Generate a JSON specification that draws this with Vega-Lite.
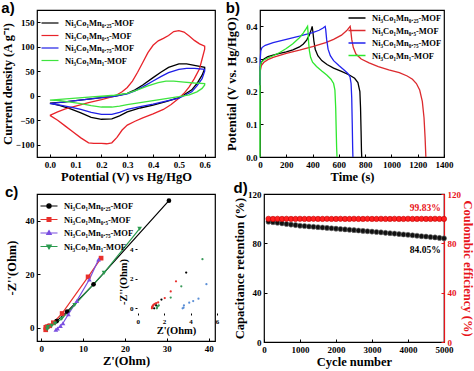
{
  "$schema": "https://vega.github.io/schema/vega-lite/v6.json",
  "padding": {"left": 0, "top": 0, "right": 0, "bottom": 0},
  "background": "white",
  "datasets": {
    "cv": [
      {"s":"Ni₃Co₁Mn₀.₂₅-MOF","k":0,"v":0,"i":-15},{"s":"Ni₃Co₁Mn₀.₂₅-MOF","k":1,"v":0.05,"i":-13},{"s":"Ni₃Co₁Mn₀.₂₅-MOF","k":2,"v":0.1,"i":-10},{"s":"Ni₃Co₁Mn₀.₂₅-MOF","k":3,"v":0.15,"i":-7},{"s":"Ni₃Co₁Mn₀.₂₅-MOF","k":4,"v":0.2,"i":-4},{"s":"Ni₃Co₁Mn₀.₂₅-MOF","k":5,"v":0.25,"i":-1},{"s":"Ni₃Co₁Mn₀.₂₅-MOF","k":6,"v":0.3,"i":5},{"s":"Ni₃Co₁Mn₀.₂₅-MOF","k":7,"v":0.33,"i":12},{"s":"Ni₃Co₁Mn₀.₂₅-MOF","k":8,"v":0.36,"i":22},{"s":"Ni₃Co₁Mn₀.₂₅-MOF","k":9,"v":0.4,"i":37},{"s":"Ni₃Co₁Mn₀.₂₅-MOF","k":10,"v":0.43,"i":48},{"s":"Ni₃Co₁Mn₀.₂₅-MOF","k":11,"v":0.46,"i":58},{"s":"Ni₃Co₁Mn₀.₂₅-MOF","k":12,"v":0.5,"i":65},{"s":"Ni₃Co₁Mn₀.₂₅-MOF","k":13,"v":0.53,"i":65},{"s":"Ni₃Co₁Mn₀.₂₅-MOF","k":14,"v":0.56,"i":62},{"s":"Ni₃Co₁Mn₀.₂₅-MOF","k":15,"v":0.6,"i":58},{"s":"Ni₃Co₁Mn₀.₂₅-MOF","k":16,"v":0.6,"i":55},{"s":"Ni₃Co₁Mn₀.₂₅-MOF","k":17,"v":0.59,"i":42},{"s":"Ni₃Co₁Mn₀.₂₅-MOF","k":18,"v":0.57,"i":25},{"s":"Ni₃Co₁Mn₀.₂₅-MOF","k":19,"v":0.55,"i":12},{"s":"Ni₃Co₁Mn₀.₂₅-MOF","k":20,"v":0.52,"i":2},{"s":"Ni₃Co₁Mn₀.₂₅-MOF","k":21,"v":0.5,"i":-4},{"s":"Ni₃Co₁Mn₀.₂₅-MOF","k":22,"v":0.45,"i":-12},{"s":"Ni₃Co₁Mn₀.₂₅-MOF","k":23,"v":0.4,"i":-19},{"s":"Ni₃Co₁Mn₀.₂₅-MOF","k":24,"v":0.35,"i":-25},{"s":"Ni₃Co₁Mn₀.₂₅-MOF","k":25,"v":0.3,"i":-33},{"s":"Ni₃Co₁Mn₀.₂₅-MOF","k":26,"v":0.27,"i":-41},{"s":"Ni₃Co₁Mn₀.₂₅-MOF","k":27,"v":0.24,"i":-47},{"s":"Ni₃Co₁Mn₀.₂₅-MOF","k":28,"v":0.2,"i":-48},{"s":"Ni₃Co₁Mn₀.₂₅-MOF","k":29,"v":0.16,"i":-44},{"s":"Ni₃Co₁Mn₀.₂₅-MOF","k":30,"v":0.12,"i":-35},{"s":"Ni₃Co₁Mn₀.₂₅-MOF","k":31,"v":0.08,"i":-27},{"s":"Ni₃Co₁Mn₀.₂₅-MOF","k":32,"v":0.04,"i":-20},{"s":"Ni₃Co₁Mn₀.₂₅-MOF","k":33,"v":0,"i":-15},
      {"s":"Ni₃Co₁Mn₀.₅-MOF","k":0,"v":0,"i":-40},{"s":"Ni₃Co₁Mn₀.₅-MOF","k":1,"v":0.03,"i":-33},{"s":"Ni₃Co₁Mn₀.₅-MOF","k":2,"v":0.06,"i":-27},{"s":"Ni₃Co₁Mn₀.₅-MOF","k":3,"v":0.1,"i":-21},{"s":"Ni₃Co₁Mn₀.₅-MOF","k":4,"v":0.15,"i":-14},{"s":"Ni₃Co₁Mn₀.₅-MOF","k":5,"v":0.2,"i":-8},{"s":"Ni₃Co₁Mn₀.₅-MOF","k":6,"v":0.25,"i":-1},{"s":"Ni₃Co₁Mn₀.₅-MOF","k":7,"v":0.28,"i":8},{"s":"Ni₃Co₁Mn₀.₅-MOF","k":8,"v":0.3,"i":17},{"s":"Ni₃Co₁Mn₀.₅-MOF","k":9,"v":0.32,"i":30},{"s":"Ni₃Co₁Mn₀.₅-MOF","k":10,"v":0.34,"i":48},{"s":"Ni₃Co₁Mn₀.₅-MOF","k":11,"v":0.36,"i":68},{"s":"Ni₃Co₁Mn₀.₅-MOF","k":12,"v":0.38,"i":88},{"s":"Ni₃Co₁Mn₀.₅-MOF","k":13,"v":0.4,"i":103},{"s":"Ni₃Co₁Mn₀.₅-MOF","k":14,"v":0.42,"i":112},{"s":"Ni₃Co₁Mn₀.₅-MOF","k":15,"v":0.44,"i":117},{"s":"Ni₃Co₁Mn₀.₅-MOF","k":16,"v":0.46,"i":123},{"s":"Ni₃Co₁Mn₀.₅-MOF","k":17,"v":0.48,"i":131},{"s":"Ni₃Co₁Mn₀.₅-MOF","k":18,"v":0.5,"i":133},{"s":"Ni₃Co₁Mn₀.₅-MOF","k":19,"v":0.52,"i":130},{"s":"Ni₃Co₁Mn₀.₅-MOF","k":20,"v":0.54,"i":122},{"s":"Ni₃Co₁Mn₀.₅-MOF","k":21,"v":0.56,"i":113},{"s":"Ni₃Co₁Mn₀.₅-MOF","k":22,"v":0.58,"i":106},{"s":"Ni₃Co₁Mn₀.₅-MOF","k":23,"v":0.6,"i":101},{"s":"Ni₃Co₁Mn₀.₅-MOF","k":24,"v":0.6,"i":95},{"s":"Ni₃Co₁Mn₀.₅-MOF","k":25,"v":0.59,"i":75},{"s":"Ni₃Co₁Mn₀.₅-MOF","k":26,"v":0.58,"i":55},{"s":"Ni₃Co₁Mn₀.₅-MOF","k":27,"v":0.56,"i":35},{"s":"Ni₃Co₁Mn₀.₅-MOF","k":28,"v":0.54,"i":18},{"s":"Ni₃Co₁Mn₀.₅-MOF","k":29,"v":0.52,"i":5},{"s":"Ni₃Co₁Mn₀.₅-MOF","k":30,"v":0.5,"i":-5},{"s":"Ni₃Co₁Mn₀.₅-MOF","k":31,"v":0.47,"i":-18},{"s":"Ni₃Co₁Mn₀.₅-MOF","k":32,"v":0.44,"i":-28},{"s":"Ni₃Co₁Mn₀.₅-MOF","k":33,"v":0.4,"i":-37},{"s":"Ni₃Co₁Mn₀.₅-MOF","k":34,"v":0.36,"i":-45},{"s":"Ni₃Co₁Mn₀.₅-MOF","k":35,"v":0.33,"i":-52},{"s":"Ni₃Co₁Mn₀.₅-MOF","k":36,"v":0.3,"i":-60},{"s":"Ni₃Co₁Mn₀.₅-MOF","k":37,"v":0.28,"i":-70},{"s":"Ni₃Co₁Mn₀.₅-MOF","k":38,"v":0.26,"i":-85},{"s":"Ni₃Co₁Mn₀.₅-MOF","k":39,"v":0.24,"i":-96},{"s":"Ni₃Co₁Mn₀.₅-MOF","k":40,"v":0.22,"i":-98},{"s":"Ni₃Co₁Mn₀.₅-MOF","k":41,"v":0.2,"i":-97},{"s":"Ni₃Co₁Mn₀.₅-MOF","k":42,"v":0.17,"i":-97},{"s":"Ni₃Co₁Mn₀.₅-MOF","k":43,"v":0.15,"i":-96},{"s":"Ni₃Co₁Mn₀.₅-MOF","k":44,"v":0.12,"i":-86},{"s":"Ni₃Co₁Mn₀.₅-MOF","k":45,"v":0.09,"i":-74},{"s":"Ni₃Co₁Mn₀.₅-MOF","k":46,"v":0.06,"i":-62},{"s":"Ni₃Co₁Mn₀.₅-MOF","k":47,"v":0.03,"i":-50},{"s":"Ni₃Co₁Mn₀.₅-MOF","k":48,"v":0,"i":-40},
      {"s":"Ni₃Co₁Mn₀.₇₅-MOF","k":0,"v":0,"i":-16},{"s":"Ni₃Co₁Mn₀.₇₅-MOF","k":1,"v":0.05,"i":-13},{"s":"Ni₃Co₁Mn₀.₇₅-MOF","k":2,"v":0.1,"i":-10},{"s":"Ni₃Co₁Mn₀.₇₅-MOF","k":3,"v":0.15,"i":-7},{"s":"Ni₃Co₁Mn₀.₇₅-MOF","k":4,"v":0.2,"i":-4},{"s":"Ni₃Co₁Mn₀.₇₅-MOF","k":5,"v":0.25,"i":-1},{"s":"Ni₃Co₁Mn₀.₇₅-MOF","k":6,"v":0.3,"i":4},{"s":"Ni₃Co₁Mn₀.₇₅-MOF","k":7,"v":0.33,"i":10},{"s":"Ni₃Co₁Mn₀.₇₅-MOF","k":8,"v":0.36,"i":18},{"s":"Ni₃Co₁Mn₀.₇₅-MOF","k":9,"v":0.4,"i":30},{"s":"Ni₃Co₁Mn₀.₇₅-MOF","k":10,"v":0.43,"i":39},{"s":"Ni₃Co₁Mn₀.₇₅-MOF","k":11,"v":0.46,"i":47},{"s":"Ni₃Co₁Mn₀.₇₅-MOF","k":12,"v":0.5,"i":54},{"s":"Ni₃Co₁Mn₀.₇₅-MOF","k":13,"v":0.53,"i":56},{"s":"Ni₃Co₁Mn₀.₇₅-MOF","k":14,"v":0.56,"i":56},{"s":"Ni₃Co₁Mn₀.₇₅-MOF","k":15,"v":0.6,"i":54},{"s":"Ni₃Co₁Mn₀.₇₅-MOF","k":16,"v":0.6,"i":50},{"s":"Ni₃Co₁Mn₀.₇₅-MOF","k":17,"v":0.59,"i":35},{"s":"Ni₃Co₁Mn₀.₇₅-MOF","k":18,"v":0.57,"i":20},{"s":"Ni₃Co₁Mn₀.₇₅-MOF","k":19,"v":0.55,"i":8},{"s":"Ni₃Co₁Mn₀.₇₅-MOF","k":20,"v":0.52,"i":0},{"s":"Ni₃Co₁Mn₀.₇₅-MOF","k":21,"v":0.5,"i":-5},{"s":"Ni₃Co₁Mn₀.₇₅-MOF","k":22,"v":0.45,"i":-11},{"s":"Ni₃Co₁Mn₀.₇₅-MOF","k":23,"v":0.4,"i":-17},{"s":"Ni₃Co₁Mn₀.₇₅-MOF","k":24,"v":0.35,"i":-22},{"s":"Ni₃Co₁Mn₀.₇₅-MOF","k":25,"v":0.3,"i":-28},{"s":"Ni₃Co₁Mn₀.₇₅-MOF","k":26,"v":0.27,"i":-34},{"s":"Ni₃Co₁Mn₀.₇₅-MOF","k":27,"v":0.24,"i":-38},{"s":"Ni₃Co₁Mn₀.₇₅-MOF","k":28,"v":0.2,"i":-38},{"s":"Ni₃Co₁Mn₀.₇₅-MOF","k":29,"v":0.16,"i":-34},{"s":"Ni₃Co₁Mn₀.₇₅-MOF","k":30,"v":0.12,"i":-28},{"s":"Ni₃Co₁Mn₀.₇₅-MOF","k":31,"v":0.08,"i":-23},{"s":"Ni₃Co₁Mn₀.₇₅-MOF","k":32,"v":0.04,"i":-19},{"s":"Ni₃Co₁Mn₀.₇₅-MOF","k":33,"v":0,"i":-16},
      {"s":"Ni₃Co₁Mn₁-MOF","k":0,"v":0,"i":-9},{"s":"Ni₃Co₁Mn₁-MOF","k":1,"v":0.05,"i":-7},{"s":"Ni₃Co₁Mn₁-MOF","k":2,"v":0.1,"i":-5},{"s":"Ni₃Co₁Mn₁-MOF","k":3,"v":0.15,"i":-3},{"s":"Ni₃Co₁Mn₁-MOF","k":4,"v":0.2,"i":-1},{"s":"Ni₃Co₁Mn₁-MOF","k":5,"v":0.25,"i":1},{"s":"Ni₃Co₁Mn₁-MOF","k":6,"v":0.3,"i":5},{"s":"Ni₃Co₁Mn₁-MOF","k":7,"v":0.34,"i":12},{"s":"Ni₃Co₁Mn₁-MOF","k":8,"v":0.38,"i":20},{"s":"Ni₃Co₁Mn₁-MOF","k":9,"v":0.42,"i":27},{"s":"Ni₃Co₁Mn₁-MOF","k":10,"v":0.45,"i":30},{"s":"Ni₃Co₁Mn₁-MOF","k":11,"v":0.48,"i":30},{"s":"Ni₃Co₁Mn₁-MOF","k":12,"v":0.52,"i":28},{"s":"Ni₃Co₁Mn₁-MOF","k":13,"v":0.56,"i":26},{"s":"Ni₃Co₁Mn₁-MOF","k":14,"v":0.6,"i":25},{"s":"Ni₃Co₁Mn₁-MOF","k":15,"v":0.6,"i":22},{"s":"Ni₃Co₁Mn₁-MOF","k":16,"v":0.59,"i":15},{"s":"Ni₃Co₁Mn₁-MOF","k":17,"v":0.57,"i":8},{"s":"Ni₃Co₁Mn₁-MOF","k":18,"v":0.54,"i":2},{"s":"Ni₃Co₁Mn₁-MOF","k":19,"v":0.5,"i":-2},{"s":"Ni₃Co₁Mn₁-MOF","k":20,"v":0.45,"i":-6},{"s":"Ni₃Co₁Mn₁-MOF","k":21,"v":0.4,"i":-10},{"s":"Ni₃Co₁Mn₁-MOF","k":22,"v":0.35,"i":-14},{"s":"Ni₃Co₁Mn₁-MOF","k":23,"v":0.3,"i":-18},{"s":"Ni₃Co₁Mn₁-MOF","k":24,"v":0.27,"i":-21},{"s":"Ni₃Co₁Mn₁-MOF","k":25,"v":0.24,"i":-23},{"s":"Ni₃Co₁Mn₁-MOF","k":26,"v":0.2,"i":-23},{"s":"Ni₃Co₁Mn₁-MOF","k":27,"v":0.16,"i":-20},{"s":"Ni₃Co₁Mn₁-MOF","k":28,"v":0.12,"i":-16},{"s":"Ni₃Co₁Mn₁-MOF","k":29,"v":0.08,"i":-13},{"s":"Ni₃Co₁Mn₁-MOF","k":30,"v":0.04,"i":-10},{"s":"Ni₃Co₁Mn₁-MOF","k":31,"v":0,"i":-9}
    ],
    "gcd": [
      {"s":"Ni₃Co₁Mn₀.₂₅-MOF","k":0,"t":0,"p":0.22},{"s":"Ni₃Co₁Mn₀.₂₅-MOF","k":1,"t":3,"p":0.275},{"s":"Ni₃Co₁Mn₀.₂₅-MOF","k":2,"t":10,"p":0.29},{"s":"Ni₃Co₁Mn₀.₂₅-MOF","k":3,"t":30,"p":0.3},{"s":"Ni₃Co₁Mn₀.₂₅-MOF","k":4,"t":60,"p":0.307},{"s":"Ni₃Co₁Mn₀.₂₅-MOF","k":5,"t":100,"p":0.312},{"s":"Ni₃Co₁Mn₀.₂₅-MOF","k":6,"t":150,"p":0.317},{"s":"Ni₃Co₁Mn₀.₂₅-MOF","k":7,"t":200,"p":0.322},{"s":"Ni₃Co₁Mn₀.₂₅-MOF","k":8,"t":250,"p":0.328},{"s":"Ni₃Co₁Mn₀.₂₅-MOF","k":9,"t":300,"p":0.337},{"s":"Ni₃Co₁Mn₀.₂₅-MOF","k":10,"t":330,"p":0.346},{"s":"Ni₃Co₁Mn₀.₂₅-MOF","k":11,"t":355,"p":0.358},{"s":"Ni₃Co₁Mn₀.₂₅-MOF","k":12,"t":375,"p":0.373},{"s":"Ni₃Co₁Mn₀.₂₅-MOF","k":13,"t":390,"p":0.39},{"s":"Ni₃Co₁Mn₀.₂₅-MOF","k":14,"t":397,"p":0.4},{"s":"Ni₃Co₁Mn₀.₂₅-MOF","k":15,"t":402,"p":0.385},{"s":"Ni₃Co₁Mn₀.₂₅-MOF","k":16,"t":410,"p":0.355},{"s":"Ni₃Co₁Mn₀.₂₅-MOF","k":17,"t":420,"p":0.33},{"s":"Ni₃Co₁Mn₀.₂₅-MOF","k":18,"t":440,"p":0.31},{"s":"Ni₃Co₁Mn₀.₂₅-MOF","k":19,"t":470,"p":0.295},{"s":"Ni₃Co₁Mn₀.₂₅-MOF","k":20,"t":510,"p":0.283},{"s":"Ni₃Co₁Mn₀.₂₅-MOF","k":21,"t":560,"p":0.272},{"s":"Ni₃Co₁Mn₀.₂₅-MOF","k":22,"t":620,"p":0.262},{"s":"Ni₃Co₁Mn₀.₂₅-MOF","k":23,"t":680,"p":0.251},{"s":"Ni₃Co₁Mn₀.₂₅-MOF","k":24,"t":720,"p":0.241},{"s":"Ni₃Co₁Mn₀.₂₅-MOF","k":25,"t":745,"p":0.228},{"s":"Ni₃Co₁Mn₀.₂₅-MOF","k":26,"t":760,"p":0.2},{"s":"Ni₃Co₁Mn₀.₂₅-MOF","k":27,"t":765,"p":0.15},{"s":"Ni₃Co₁Mn₀.₂₅-MOF","k":28,"t":769,"p":0.08},{"s":"Ni₃Co₁Mn₀.₂₅-MOF","k":29,"t":772,"p":0.02},{"s":"Ni₃Co₁Mn₀.₂₅-MOF","k":30,"t":774,"p":0},
      {"s":"Ni₃Co₁Mn₀.₅-MOF","k":0,"t":0,"p":0.22},{"s":"Ni₃Co₁Mn₀.₅-MOF","k":1,"t":3,"p":0.265},{"s":"Ni₃Co₁Mn₀.₅-MOF","k":2,"t":10,"p":0.28},{"s":"Ni₃Co₁Mn₀.₅-MOF","k":3,"t":30,"p":0.29},{"s":"Ni₃Co₁Mn₀.₅-MOF","k":4,"t":60,"p":0.298},{"s":"Ni₃Co₁Mn₀.₅-MOF","k":5,"t":100,"p":0.305},{"s":"Ni₃Co₁Mn₀.₅-MOF","k":6,"t":200,"p":0.317},{"s":"Ni₃Co₁Mn₀.₅-MOF","k":7,"t":300,"p":0.327},{"s":"Ni₃Co₁Mn₀.₅-MOF","k":8,"t":400,"p":0.338},{"s":"Ni₃Co₁Mn₀.₅-MOF","k":9,"t":500,"p":0.35},{"s":"Ni₃Co₁Mn₀.₅-MOF","k":10,"t":560,"p":0.36},{"s":"Ni₃Co₁Mn₀.₅-MOF","k":11,"t":620,"p":0.373},{"s":"Ni₃Co₁Mn₀.₅-MOF","k":12,"t":660,"p":0.387},{"s":"Ni₃Co₁Mn₀.₅-MOF","k":13,"t":686,"p":0.4},{"s":"Ni₃Co₁Mn₀.₅-MOF","k":14,"t":690,"p":0.39},{"s":"Ni₃Co₁Mn₀.₅-MOF","k":15,"t":698,"p":0.36},{"s":"Ni₃Co₁Mn₀.₅-MOF","k":16,"t":710,"p":0.335},{"s":"Ni₃Co₁Mn₀.₅-MOF","k":17,"t":730,"p":0.315},{"s":"Ni₃Co₁Mn₀.₅-MOF","k":18,"t":770,"p":0.3},{"s":"Ni₃Co₁Mn₀.₅-MOF","k":19,"t":830,"p":0.288},{"s":"Ni₃Co₁Mn₀.₅-MOF","k":20,"t":900,"p":0.277},{"s":"Ni₃Co₁Mn₀.₅-MOF","k":21,"t":980,"p":0.267},{"s":"Ni₃Co₁Mn₀.₅-MOF","k":22,"t":1060,"p":0.258},{"s":"Ni₃Co₁Mn₀.₅-MOF","k":23,"t":1120,"p":0.248},{"s":"Ni₃Co₁Mn₀.₅-MOF","k":24,"t":1160,"p":0.238},{"s":"Ni₃Co₁Mn₀.₅-MOF","k":25,"t":1190,"p":0.225},{"s":"Ni₃Co₁Mn₀.₅-MOF","k":26,"t":1215,"p":0.205},{"s":"Ni₃Co₁Mn₀.₅-MOF","k":27,"t":1235,"p":0.17},{"s":"Ni₃Co₁Mn₀.₅-MOF","k":28,"t":1248,"p":0.12},{"s":"Ni₃Co₁Mn₀.₅-MOF","k":29,"t":1256,"p":0.06},{"s":"Ni₃Co₁Mn₀.₅-MOF","k":30,"t":1262,"p":0},
      {"s":"Ni₃Co₁Mn₀.₇₅-MOF","k":0,"t":0,"p":0.22},{"s":"Ni₃Co₁Mn₀.₇₅-MOF","k":1,"t":2,"p":0.3},{"s":"Ni₃Co₁Mn₀.₇₅-MOF","k":2,"t":6,"p":0.325},{"s":"Ni₃Co₁Mn₀.₇₅-MOF","k":3,"t":15,"p":0.335},{"s":"Ni₃Co₁Mn₀.₇₅-MOF","k":4,"t":40,"p":0.342},{"s":"Ni₃Co₁Mn₀.₇₅-MOF","k":5,"t":100,"p":0.35},{"s":"Ni₃Co₁Mn₀.₇₅-MOF","k":6,"t":200,"p":0.36},{"s":"Ni₃Co₁Mn₀.₇₅-MOF","k":7,"t":300,"p":0.37},{"s":"Ni₃Co₁Mn₀.₇₅-MOF","k":8,"t":400,"p":0.381},{"s":"Ni₃Co₁Mn₀.₇₅-MOF","k":9,"t":450,"p":0.388},{"s":"Ni₃Co₁Mn₀.₇₅-MOF","k":10,"t":480,"p":0.395},{"s":"Ni₃Co₁Mn₀.₇₅-MOF","k":11,"t":496,"p":0.4},{"s":"Ni₃Co₁Mn₀.₇₅-MOF","k":12,"t":500,"p":0.39},{"s":"Ni₃Co₁Mn₀.₇₅-MOF","k":13,"t":507,"p":0.36},{"s":"Ni₃Co₁Mn₀.₇₅-MOF","k":14,"t":518,"p":0.33},{"s":"Ni₃Co₁Mn₀.₇₅-MOF","k":15,"t":535,"p":0.31},{"s":"Ni₃Co₁Mn₀.₇₅-MOF","k":16,"t":560,"p":0.295},{"s":"Ni₃Co₁Mn₀.₇₅-MOF","k":17,"t":600,"p":0.28},{"s":"Ni₃Co₁Mn₀.₇₅-MOF","k":18,"t":640,"p":0.266},{"s":"Ni₃Co₁Mn₀.₇₅-MOF","k":19,"t":670,"p":0.255},{"s":"Ni₃Co₁Mn₀.₇₅-MOF","k":20,"t":685,"p":0.245},{"s":"Ni₃Co₁Mn₀.₇₅-MOF","k":21,"t":693,"p":0.225},{"s":"Ni₃Co₁Mn₀.₇₅-MOF","k":22,"t":698,"p":0.18},{"s":"Ni₃Co₁Mn₀.₇₅-MOF","k":23,"t":702,"p":0.1},{"s":"Ni₃Co₁Mn₀.₇₅-MOF","k":24,"t":705,"p":0.03},{"s":"Ni₃Co₁Mn₀.₇₅-MOF","k":25,"t":707,"p":0},
      {"s":"Ni₃Co₁Mn₁-MOF","k":0,"t":0,"p":0},{"s":"Ni₃Co₁Mn₁-MOF","k":1,"t":0,"p":0.26},{"s":"Ni₃Co₁Mn₁-MOF","k":2,"t":3,"p":0.28},{"s":"Ni₃Co₁Mn₁-MOF","k":3,"t":10,"p":0.29},{"s":"Ni₃Co₁Mn₁-MOF","k":4,"t":30,"p":0.297},{"s":"Ni₃Co₁Mn₁-MOF","k":5,"t":60,"p":0.303},{"s":"Ni₃Co₁Mn₁-MOF","k":6,"t":100,"p":0.31},{"s":"Ni₃Co₁Mn₁-MOF","k":7,"t":150,"p":0.32},{"s":"Ni₃Co₁Mn₁-MOF","k":8,"t":200,"p":0.332},{"s":"Ni₃Co₁Mn₁-MOF","k":9,"t":250,"p":0.347},{"s":"Ni₃Co₁Mn₁-MOF","k":10,"t":300,"p":0.365},{"s":"Ni₃Co₁Mn₁-MOF","k":11,"t":330,"p":0.38},{"s":"Ni₃Co₁Mn₁-MOF","k":12,"t":350,"p":0.392},{"s":"Ni₃Co₁Mn₁-MOF","k":13,"t":362,"p":0.4},{"s":"Ni₃Co₁Mn₁-MOF","k":14,"t":366,"p":0.38},{"s":"Ni₃Co₁Mn₁-MOF","k":15,"t":370,"p":0.35},{"s":"Ni₃Co₁Mn₁-MOF","k":16,"t":376,"p":0.325},{"s":"Ni₃Co₁Mn₁-MOF","k":17,"t":385,"p":0.305},{"s":"Ni₃Co₁Mn₁-MOF","k":18,"t":400,"p":0.29},{"s":"Ni₃Co₁Mn₁-MOF","k":19,"t":430,"p":0.277},{"s":"Ni₃Co₁Mn₁-MOF","k":20,"t":470,"p":0.263},{"s":"Ni₃Co₁Mn₁-MOF","k":21,"t":510,"p":0.25},{"s":"Ni₃Co₁Mn₁-MOF","k":22,"t":540,"p":0.238},{"s":"Ni₃Co₁Mn₁-MOF","k":23,"t":560,"p":0.225},{"s":"Ni₃Co₁Mn₁-MOF","k":24,"t":570,"p":0.205},{"s":"Ni₃Co₁Mn₁-MOF","k":25,"t":576,"p":0.15},{"s":"Ni₃Co₁Mn₁-MOF","k":26,"t":580,"p":0.08},{"s":"Ni₃Co₁Mn₁-MOF","k":27,"t":583,"p":0.03},{"s":"Ni₃Co₁Mn₁-MOF","k":28,"t":586,"p":0}
    ],
    "nyq": [
      {"s":"Ni₃Co₁Mn₀.₂₅-MOF","k":0,"zr":1.25,"zi":0},{"s":"Ni₃Co₁Mn₀.₂₅-MOF","k":1,"zr":1.5,"zi":0.3},{"s":"Ni₃Co₁Mn₀.₂₅-MOF","k":2,"zr":1.8,"zi":0.6},{"s":"Ni₃Co₁Mn₀.₂₅-MOF","k":3,"zr":3.67,"zi":2.43},{"s":"Ni₃Co₁Mn₀.₂₅-MOF","k":4,"zr":6.2,"zi":6},{"s":"Ni₃Co₁Mn₀.₂₅-MOF","k":5,"zr":12.5,"zi":16.2},{"s":"Ni₃Co₁Mn₀.₂₅-MOF","k":6,"zr":30.5,"zi":47.5},
      {"s":"Ni₃Co₁Mn₀.₅-MOF","k":0,"zr":1.08,"zi":-0.8},{"s":"Ni₃Co₁Mn₀.₅-MOF","k":1,"zr":1.1,"zi":0.1},{"s":"Ni₃Co₁Mn₀.₅-MOF","k":2,"zr":1.4,"zi":0.35},{"s":"Ni₃Co₁Mn₀.₅-MOF","k":3,"zr":2.05,"zi":0.7},{"s":"Ni₃Co₁Mn₀.₅-MOF","k":4,"zr":2.9,"zi":1.84},{"s":"Ni₃Co₁Mn₀.₅-MOF","k":5,"zr":5,"zi":5.3},{"s":"Ni₃Co₁Mn₀.₅-MOF","k":6,"zr":11.2,"zi":19},{"s":"Ni₃Co₁Mn₀.₅-MOF","k":7,"zr":14.3,"zi":26},
      {"s":"Ni₃Co₁Mn₀.₇₅-MOF","k":0,"zr":3.5,"zi":-0.8},{"s":"Ni₃Co₁Mn₀.₇₅-MOF","k":1,"zr":3.9,"zi":-0.3},{"s":"Ni₃Co₁Mn₀.₇₅-MOF","k":2,"zr":4.6,"zi":0.66},{"s":"Ni₃Co₁Mn₀.₇₅-MOF","k":3,"zr":5.2,"zi":1.64},{"s":"Ni₃Co₁Mn₀.₇₅-MOF","k":4,"zr":6.5,"zi":5},{"s":"Ni₃Co₁Mn₀.₇₅-MOF","k":5,"zr":8.5,"zi":10},{"s":"Ni₃Co₁Mn₀.₇₅-MOF","k":6,"zr":11.5,"zi":18},{"s":"Ni₃Co₁Mn₀.₇₅-MOF","k":7,"zr":13.7,"zi":25.5},
      {"s":"Ni₃Co₁Mn₁-MOF","k":0,"zr":1.45,"zi":-0.6},{"s":"Ni₃Co₁Mn₁-MOF","k":1,"zr":1.6,"zi":0.2},{"s":"Ni₃Co₁Mn₁-MOF","k":2,"zr":2.5,"zi":0.73},{"s":"Ni₃Co₁Mn₁-MOF","k":3,"zr":3.3,"zi":1.5},{"s":"Ni₃Co₁Mn₁-MOF","k":4,"zr":4.9,"zi":3.34},{"s":"Ni₃Co₁Mn₁-MOF","k":5,"zr":8,"zi":8.5},{"s":"Ni₃Co₁Mn₁-MOF","k":6,"zr":15,"zi":20.5},{"s":"Ni₃Co₁Mn₁-MOF","k":7,"zr":23.5,"zi":37}
    ],
    "nyqIn": [
      {"s":"Ni₃Co₁Mn₀.₅-MOF","zr":1.08,"zi":0},{"s":"Ni₃Co₁Mn₀.₅-MOF","zr":1.09,"zi":0.05},{"s":"Ni₃Co₁Mn₀.₅-MOF","zr":1.1,"zi":0.1},{"s":"Ni₃Co₁Mn₀.₅-MOF","zr":1.13,"zi":0.15},{"s":"Ni₃Co₁Mn₀.₅-MOF","zr":1.17,"zi":0.2},{"s":"Ni₃Co₁Mn₀.₅-MOF","zr":1.22,"zi":0.25},{"s":"Ni₃Co₁Mn₀.₅-MOF","zr":1.3,"zi":0.3},{"s":"Ni₃Co₁Mn₀.₅-MOF","zr":1.4,"zi":0.35},{"s":"Ni₃Co₁Mn₀.₅-MOF","zr":1.55,"zi":0.4},{"s":"Ni₃Co₁Mn₀.₅-MOF","zr":2.05,"zi":0.7},{"s":"Ni₃Co₁Mn₀.₅-MOF","zr":2.5,"zi":1.15},{"s":"Ni₃Co₁Mn₀.₅-MOF","zr":2.9,"zi":1.84},
      {"s":"Ni₃Co₁Mn₀.₂₅-MOF","zr":1.25,"zi":0},{"s":"Ni₃Co₁Mn₀.₂₅-MOF","zr":1.4,"zi":0.2},{"s":"Ni₃Co₁Mn₀.₂₅-MOF","zr":1.8,"zi":0.6},{"s":"Ni₃Co₁Mn₀.₂₅-MOF","zr":3.67,"zi":2.43},
      {"s":"Ni₃Co₁Mn₁-MOF","zr":1.45,"zi":0},{"s":"Ni₃Co₁Mn₁-MOF","zr":1.47,"zi":0.07},{"s":"Ni₃Co₁Mn₁-MOF","zr":1.52,"zi":0.15},{"s":"Ni₃Co₁Mn₁-MOF","zr":1.6,"zi":0.2},{"s":"Ni₃Co₁Mn₁-MOF","zr":2.5,"zi":0.73},{"s":"Ni₃Co₁Mn₁-MOF","zr":3.3,"zi":1.5},{"s":"Ni₃Co₁Mn₁-MOF","zr":4.9,"zi":3.34},
      {"s":"Ni₃Co₁Mn₀.₇₅-MOF","zr":3.4,"zi":0},{"s":"Ni₃Co₁Mn₀.₇₅-MOF","zr":3.47,"zi":0.05},{"s":"Ni₃Co₁Mn₀.₇₅-MOF","zr":3.5,"zi":0.2},{"s":"Ni₃Co₁Mn₀.₇₅-MOF","zr":3.9,"zi":0.39},{"s":"Ni₃Co₁Mn₀.₇₅-MOF","zr":4.2,"zi":0.5},{"s":"Ni₃Co₁Mn₀.₇₅-MOF","zr":4.6,"zi":0.66},{"s":"Ni₃Co₁Mn₀.₇₅-MOF","zr":5.2,"zi":1.64}
    ],
    "cyc": [
      {"c":125,"ret":97.6,"ce":99.9},{"c":250,"ret":97.1,"ce":99.8},{"c":375,"ret":96.7,"ce":99.9},{"c":500,"ret":96.2,"ce":99.8},{"c":625,"ret":95.7,"ce":99.9},{"c":750,"ret":95.2,"ce":99.8},{"c":875,"ret":94.8,"ce":99.8},{"c":1000,"ret":94.3,"ce":99.9},
      {"c":1125,"ret":94.0,"ce":99.8},{"c":1250,"ret":93.7,"ce":99.8},{"c":1375,"ret":93.4,"ce":99.9},{"c":1500,"ret":93.1,"ce":99.8},{"c":1625,"ret":92.8,"ce":99.8},{"c":1750,"ret":92.5,"ce":99.9},{"c":1875,"ret":92.2,"ce":99.8},{"c":2000,"ret":91.9,"ce":99.8},
      {"c":2125,"ret":91.6,"ce":99.9},{"c":2250,"ret":91.3,"ce":99.8},{"c":2375,"ret":91.0,"ce":99.8},{"c":2500,"ret":90.7,"ce":99.9},{"c":2625,"ret":90.4,"ce":99.8},{"c":2750,"ret":90.1,"ce":99.8},{"c":2875,"ret":89.8,"ce":99.9},{"c":3000,"ret":89.5,"ce":99.8},
      {"c":3125,"ret":89.2,"ce":99.8},{"c":3250,"ret":88.9,"ce":99.9},{"c":3375,"ret":88.5,"ce":99.8},{"c":3500,"ret":88.2,"ce":99.8},{"c":3625,"ret":87.9,"ce":99.9},{"c":3750,"ret":87.5,"ce":99.8},{"c":3875,"ret":87.2,"ce":99.8},{"c":4000,"ret":86.9,"ce":99.9},
      {"c":4125,"ret":86.5,"ce":99.8},{"c":4250,"ret":86.2,"ce":99.8},{"c":4375,"ret":85.8,"ce":99.9},{"c":4500,"ret":85.5,"ce":99.8},{"c":4625,"ret":85.1,"ce":99.8},{"c":4750,"ret":84.8,"ce":99.9},{"c":4875,"ret":84.4,"ce":99.8},{"c":5000,"ret":84.05,"ce":99.83}
    ],
    "ann": [
      {"c":4480,"val":108.5,"label":"99.83%","ax":"ce"},
      {"c":4480,"val":75,"label":"84.05%","ax":"ret"}
    ]
  },
  "vconcat": [
    {
      "hconcat": [
        {
          "width": 178, "height": 147,
          "title": {"text": "a)"},
          "data": {"name": "cv"},
          "mark": {"type": "line", "strokeWidth": 1.3},
          "encoding": {
            "x": {"field": "v", "type": "quantitative", "scale": {"domain": [-0.05, 0.64], "nice": false, "zero": false}, "axis": {"title": "Potential (V) vs Hg/HgO", "values": [0, 0.1, 0.2, 0.3, 0.4, 0.5, 0.6], "format": ".1f", "labelOverlap": false, "titlePadding": 1}},
            "y": {"field": "i", "type": "quantitative", "scale": {"domain": [-125, 175], "nice": false}, "axis": {"title": "Current density (A g⁻¹)", "values": [-100, -50, 0, 50, 100, 150], "labelOverlap": false}},
            "color": {"field": "s", "type": "nominal", "scale": {"domain": ["Ni₃Co₁Mn₀.₂₅-MOF", "Ni₃Co₁Mn₀.₅-MOF", "Ni₃Co₁Mn₀.₇₅-MOF", "Ni₃Co₁Mn₁-MOF"], "range": ["#000000", "#e8232a", "#1f1fe6", "#3ee43e"]}, "legend": {"title": null, "orient": "top-left", "offset": 7, "symbolType": "M-1.7,0H1.7", "symbolSize": 100, "symbolStrokeWidth": 1.2, "labelOffset": 9, "rowPadding": 1.5}},
            "order": {"field": "k", "type": "quantitative"}
          }
        },
        {
          "width": 184, "height": 147,
          "title": {"text": "b)"},
          "data": {"name": "gcd"},
          "mark": {"type": "line", "strokeWidth": 1.3},
          "encoding": {
            "x": {"field": "t", "type": "quantitative", "scale": {"domain": [0, 1400], "nice": false}, "axis": {"title": "Time (s)", "values": [0, 200, 400, 600, 800, 1000, 1200, 1400], "format": "d", "labelOverlap": false, "titlePadding": 1}},
            "y": {"field": "p", "type": "quantitative", "scale": {"domain": [0, 0.45], "nice": false}, "axis": {"title": "Potential (V vs. Hg/HgO)", "values": [0, 0.1, 0.2, 0.3, 0.4], "format": ".1f", "labelOverlap": false, "titlePadding": 7}},
            "color": {"field": "s", "type": "nominal", "scale": {"domain": ["Ni₃Co₁Mn₀.₂₅-MOF", "Ni₃Co₁Mn₀.₅-MOF", "Ni₃Co₁Mn₀.₇₅-MOF", "Ni₃Co₁Mn₁-MOF"], "range": ["#000000", "#dc2a2e", "#2222ee", "#2ee82e"]}, "legend": {"title": null, "orient": "top-right", "offset": 2, "symbolType": "M-1.7,0H1.7", "symbolSize": 100, "symbolStrokeWidth": 1.5, "labelOffset": 9, "rowPadding": 1.5}},
            "order": {"field": "k", "type": "quantitative"}
          }
        }
      ],
      "spacing": 9,
      "resolve": {"scale": {"color": "independent"}, "legend": {"color": "independent"}}
    },
    {
      "hconcat": [
        {
          "width": 178, "height": 147,
          "title": {"text": "c)"},
          "layer": [
            {
              "data": {"name": "nyq"},
              "layer": [
                {"mark": {"type": "line", "strokeWidth": 1.2},
                 "encoding": {
                   "x": {"field": "zr", "type": "quantitative", "scale": {"domain": [-1, 41.5], "nice": false, "zero": false}, "axis": {"title": "Z'(Ohm)", "values": [0, 10, 20, 30, 40], "labelOverlap": false, "titlePadding": 1}},
                   "y": {"field": "zi", "type": "quantitative", "scale": {"domain": [-5, 50], "nice": false, "zero": false}, "axis": {"title": "-Z''(Ohm)", "values": [0, 10, 20, 30, 40, 50], "titlePadding": 7, "labelOverlap": false}},
                   "color": {"field": "s", "type": "nominal", "scale": {"domain": ["Ni₃Co₁Mn₀.₂₅-MOF", "Ni₃Co₁Mn₀.₅-MOF", "Ni₃Co₁Mn₀.₇₅-MOF", "Ni₃Co₁Mn₁-MOF"], "range": ["#000000", "#e8302c", "#7a4fe0", "#2a9a4e"]},
                     "legend": {"title": null, "orient": "top-left", "offset": 6, "symbolSize": 100, "symbolStrokeWidth": 1.2, "labelOffset": 9, "rowPadding": 2.5,
                       "encode": {"symbols": {"update": {
                         "shape": {"signal": "['M-1.7,0H1.7M0.42,0A0.42,0.42,0,1,1,-0.42,0A0.42,0.42,0,1,1,0.42,0Z','M-1.7,0H1.7M-0.38,-0.38H0.38V0.38H-0.38Z','M-1.7,0H1.7M0,-0.48L0.44,0.3H-0.44Z','M-1.7,0H1.7M0,0.48L0.44,-0.3H-0.44Z'][indexof(['Ni₃Co₁Mn₀.₂₅-MOF','Ni₃Co₁Mn₀.₅-MOF','Ni₃Co₁Mn₀.₇₅-MOF','Ni₃Co₁Mn₁-MOF'], datum.value)]"},
                         "stroke": {"signal": "['#000000','#e8302c','#7a4fe0','#2a9a4e'][indexof(['Ni₃Co₁Mn₀.₂₅-MOF','Ni₃Co₁Mn₀.₅-MOF','Ni₃Co₁Mn₀.₇₅-MOF','Ni₃Co₁Mn₁-MOF'], datum.value)]"},
                         "fill": {"signal": "['#000000','#e8302c','#5b6fe8','#2a9a4e'][indexof(['Ni₃Co₁Mn₀.₂₅-MOF','Ni₃Co₁Mn₀.₅-MOF','Ni₃Co₁Mn₀.₇₅-MOF','Ni₃Co₁Mn₁-MOF'], datum.value)]"},
                         "fillOpacity": {"value": 1}
                       }}}}},
                   "order": {"field": "k", "type": "quantitative"}
                 }},
                {"mark": {"type": "point", "filled": true, "size": 22, "opacity": 1},
                 "encoding": {
                   "x": {"field": "zr", "type": "quantitative"},
                   "y": {"field": "zi", "type": "quantitative"},
                   "color": {"field": "s", "type": "nominal"},
                   "shape": {"field": "s", "type": "nominal", "scale": {"domain": ["Ni₃Co₁Mn₀.₂₅-MOF", "Ni₃Co₁Mn₀.₅-MOF", "Ni₃Co₁Mn₀.₇₅-MOF", "Ni₃Co₁Mn₁-MOF"], "range": ["circle", "square", "triangle-up", "triangle-down"]}, "legend": null}
                 }}
              ]
            },
            {
              "layer": [
                {"mark": {"type": "rect", "fill": "white", "stroke": "#a8a8a8", "strokeWidth": 0.8},
                 "encoding": {
                   "x": {"datum": -0.2, "type": "quantitative", "scale": {"domain": [-0.2, 6], "range": [98, 180], "nice": false, "zero": false}, "axis": {"orient": "bottom", "offset": -26, "values": [0, 2, 4, 6], "labelFontSize": 7, "labelPadding": 4, "tickSize": -2, "title": "Z'(Ohm)", "titleFontSize": 10.5, "titlePadding": 1, "labelOverlap": false}},
                   "x2": {"datum": 6},
                   "y": {"datum": -0.45, "type": "quantitative", "scale": {"domain": [-0.45, 4.1], "range": [121, 54], "nice": false, "zero": false}, "axis": {"orient": "left", "offset": -98, "values": [0, 2, 4], "labelFontSize": 7, "labelPadding": 4, "tickSize": -2, "title": "-Z''(Ohm)", "titleFontSize": 10.5, "titlePadding": 1, "labelOverlap": false}},
                   "y2": {"datum": 4.1}
                 }},
                {"data": {"name": "nyqIn"},
                 "mark": {"type": "circle", "size": 5, "opacity": 1},
                 "encoding": {
                   "x": {"field": "zr", "type": "quantitative"},
                   "y": {"field": "zi", "type": "quantitative"},
                   "color": {"field": "s", "type": "nominal", "scale": {"domain": ["Ni₃Co₁Mn₀.₂₅-MOF", "Ni₃Co₁Mn₀.₅-MOF", "Ni₃Co₁Mn₀.₇₅-MOF", "Ni₃Co₁Mn₁-MOF"], "range": ["#000000", "#e8302c", "#5b8fd6", "#3a9a5a"]}, "legend": null}
                 }}
              ]
            }
          ],
          "resolve": {"scale": {"x": "independent", "y": "independent", "color": "independent"}, "axis": {"x": "independent", "y": "independent"}}
        },
        {
          "width": 180, "height": 148,
          "title": {"text": "d)"},
          "layer": [
            {
              "layer": [
                {"data": {"name": "cyc"},
                 "mark": {"type": "circle", "size": 26, "opacity": 1, "color": "#111111", "stroke": "#777777", "strokeWidth": 0.6},
                 "encoding": {
                   "x": {"field": "c", "type": "quantitative", "scale": {"domain": [0, 5000], "nice": false}, "axis": {"title": "Cycle number", "values": [0, 1000, 2000, 3000, 4000, 5000], "format": "d", "labelOverlap": false, "titlePadding": 1}},
                   "y": {"field": "ret", "type": "quantitative", "scale": {"domain": [0, 120], "nice": false}, "axis": {"title": "Capacitance retention (%)", "values": [0, 20, 40, 60, 80, 100, 120], "labelOverlap": false}}
                 }},
                {"data": {"name": "ann"},
                 "transform": [{"filter": "datum.ax == 'ret'"}],
                 "mark": {"type": "text", "font": "Liberation Serif", "fontWeight": "bold", "fontSize": 9.5, "color": "#000"},
                 "encoding": {
                   "x": {"field": "c", "type": "quantitative", "axis": {"title": "Cycle number", "values": [0, 1000, 2000, 3000, 4000, 5000], "format": "d", "labelOverlap": false, "titlePadding": 1}},
                   "y": {"field": "val", "type": "quantitative"},
                   "text": {"field": "label"}
                 }}
              ]
            },
            {
              "layer": [
                {"data": {"name": "cyc"},
                 "mark": {"type": "circle", "size": 28, "opacity": 1, "color": "#ff1f1f", "stroke": "#c00000", "strokeWidth": 0.6},
                 "encoding": {
                   "x": {"field": "c", "type": "quantitative", "axis": {"title": "Cycle number", "values": [0, 1000, 2000, 3000, 4000, 5000], "format": "d", "labelOverlap": false, "titlePadding": 1}},
                   "y": {"field": "ce", "type": "quantitative", "scale": {"domain": [0, 120], "nice": false}, "axis": {"orient": "right", "title": "Coulombic efficiency (%)", "values": [0, 20, 40, 60, 80, 100, 120], "labelOverlap": false, "titlePadding": 0, "domain": true, "domainColor": "#e8141b", "domainWidth": 1.2, "tickColor": "#e8141b", "labelColor": "#e8141b", "titleColor": "#e8141b"}}
                 }},
                {"data": {"name": "ann"},
                 "transform": [{"filter": "datum.ax == 'ce'"}],
                 "mark": {"type": "text", "font": "Liberation Serif", "fontWeight": "bold", "fontSize": 9.5, "color": "#e8141b"},
                 "encoding": {
                   "x": {"field": "c", "type": "quantitative", "axis": {"title": "Cycle number", "values": [0, 1000, 2000, 3000, 4000, 5000], "format": "d", "labelOverlap": false, "titlePadding": 1}},
                   "y": {"field": "val", "type": "quantitative"},
                   "text": {"field": "label"}
                 }}
              ]
            }
          ],
          "resolve": {"scale": {"y": "independent"}, "axis": {"y": "independent"}}
        }
      ],
      "spacing": 12,
      "resolve": {"scale": {"color": "independent", "shape": "independent"}, "legend": {"color": "independent", "shape": "independent"}}
    }
  ],
  "spacing": -4,
  "resolve": {"scale": {"color": "independent", "shape": "independent"}, "legend": {"color": "independent", "shape": "independent"}},
  "config": {
    "view": {"stroke": "#000000", "strokeWidth": 1.2},
    "axis": {"grid": false, "domain": false, "tickSize": -3, "tickColor": "#000000", "tickWidth": 1, "labelPadding": 6, "labelFont": "Liberation Serif", "labelFontWeight": "bold", "labelFontSize": 9, "labelColor": "#000000", "titleFont": "Liberation Serif", "titleFontWeight": "bold", "titleFontSize": 12.5, "titleColor": "#000000", "titlePadding": 1, "labelOverlap": false, "labelFlush": false},
    "legend": {"labelFont": "Liberation Serif", "labelFontWeight": "bold", "labelFontSize": 8.5, "labelColor": "#000000", "padding": 0, "rowPadding": 1, "labelOffset": 4},
    "title": {"anchor": "start", "frame": "bounds", "font": "Liberation Sans", "fontSize": 15, "fontWeight": "bold", "color": "#000000", "offset": -6}
  }
}
